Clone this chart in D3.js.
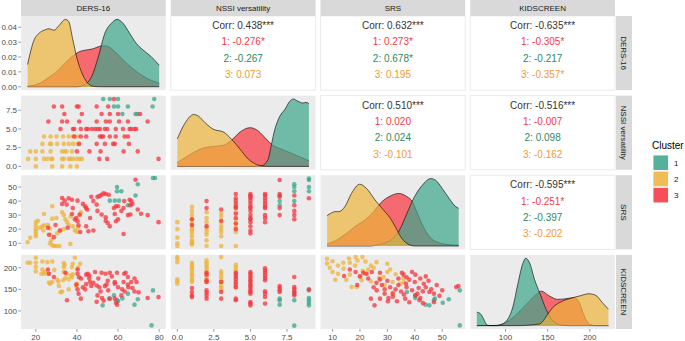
<!DOCTYPE html>
<html><head><meta charset="utf-8">
<script src="https://cdn.jsdelivr.net/npm/d3@7"></script>
<style>body{margin:0;background:#fff}svg{display:block}text{font-family:"Liberation Sans",Arial,sans-serif}</style>
</head><body><svg id="c" width="685" height="341"></svg>
<script>
// ---------------- data ----------------
const varNames = ["DERS-16","NSSI versatility","SRS","KIDSCREEN"];
const clusterNames = ["1","2","3"];
const fillColors = ["#3AA68B","#EEB33A","#F8333C"];
const corrTextColors = ["#F23A40","#2E8A60","#F2992E"];
const dataRange = [[16,80],[0,9],[8,56],[66,222]];
const tickValues = [[20,40,60,80],[0,2.5,5,7.5],[10,20,30,40,50],[100,150,200]];
const tickLabels = [["20","40","60","80"],["0.0","2.5","5.0","7.5"],["10","20","30","40","50"],["100","150","200"]];
const densTickValues = [0,0.01,0.02,0.03,0.04];
const densTickLabels = ["0.00","0.01","0.02","0.03","0.04"];

// correlation panels: [row, col, overall]
const corrOverall = [[0,1,"0.438***"],[0,2,"0.632***"],[0,3,"-0.635***"],[1,2,"0.510***"],[1,3,"-0.516***"],[2,3,"-0.595***"]];
const corrGroup1 = ["-0.276*","0.273*","-0.305*","0.020","-0.007","-0.251*"];
const corrGroup2 = ["-0.267","0.678*","-0.217","0.024","0.098","-0.397"];
const corrGroup3 = ["0.073","0.195","-0.357*","-0.101","-0.162","-0.202"];

// densities [x, density] per cluster (1 teal, 2 yellow, 3 red)
const densDers1 = [[16,0],[40,0],[44,0.0016],[47.2,0.007],[50.4,0.02],[53.6,0.036],[56.8,0.0427],[59.5,0.0453],[62.4,0.0427],[65.6,0.036],[68.8,0.0293],[72,0.0249],[76,0.0204],[80,0.0145]];
const densDers2 = [[16,0.0149],[19.2,0.0316],[21.6,0.036],[24,0.038],[26.4,0.039],[28.8,0.038],[31.2,0.041],[34.4,0.0453],[36,0.0438],[38,0.0316],[40,0.0193],[42.4,0.0093],[45.1,0.0027],[48,0.0003],[52,0],[80,0]];
const densDers3 = [[16,0.0004],[22.4,0.0027],[26,0.006],[30.4,0.0104],[33.6,0.015],[36.8,0.0193],[41.6,0.0238],[47.2,0.0253],[52.8,0.0276],[55.2,0.027],[59.2,0.0227],[64,0.016],[68.8,0.0104],[73.6,0.006],[80,0.0025]];
const densNssi1 = [[0,0],[5,0],[5.76,0.01],[6.2,0.1],[6.44,0.33],[6.67,0.55],[7.01,0.745],[7.35,0.843],[7.69,0.966],[7.94,1.0],[8.25,0.966],[8.59,0.94],[8.82,0.95],[9,0.93]];
const densNssi2 = [[0,0.41],[0.54,0.647],[1.11,0.77],[1.45,0.745],[1.9,0.647],[2.47,0.55],[3.15,0.51],[3.72,0.40],[4.29,0.255],[4.85,0.108],[5.42,0.029],[5.76,0.005],[6.2,0],[9,0]];
const densNssi3 = [[0,0.059],[0.54,0.132],[1.11,0.206],[1.68,0.265],[2.36,0.294],[3.15,0.314],[3.72,0.392],[4.29,0.51],[4.97,0.574],[5.54,0.525],[5.99,0.427],[6.44,0.328],[7.12,0.255],[7.8,0.196],[8.48,0.132],[9,0.083]];
const densSrs1 = [[8,0],[24,0],[25.5,0.01],[30.5,0.07],[34.2,0.22],[37.2,0.49],[39.6,0.71],[42.7,0.9],[45.8,1.0],[47.6,0.976],[50,0.854],[52.5,0.707],[54.9,0.585],[56,0.56]];
const densSrs2 = [[8,0.45],[9.5,0.49],[10.8,0.51],[12.3,0.51],[14.5,0.585],[16.9,0.78],[19.9,0.917],[22.4,0.854],[25.5,0.683],[28.5,0.537],[31,0.415],[32.8,0.293],[34.7,0.146],[37.1,0.039],[40,0],[56,0]];
const densSrs3 = [[8,0.03],[10.8,0.073],[14.5,0.17],[18.2,0.29],[21.9,0.39],[25,0.51],[27.4,0.634],[30.5,0.73],[34.2,0.78],[37.2,0.73],[39.1,0.66],[40.9,0.49],[43.3,0.27],[45.8,0.12],[48.8,0.049],[52.5,0.02],[56,0.01]];
const densKid1 = [[66,0.2],[70,0.18],[74,0.1],[78,0.01],[82,0],[90,0],[93.3,0.01],[101.1,0.07],[109,0.29],[114.8,0.63],[120.7,0.93],[123.9,1.0],[128.6,0.93],[134.5,0.68],[140.4,0.49],[148.2,0.24],[156.1,0.07],[165.9,0.01],[175,0],[222,0]];
const densKid2 = [[66,0],[120,0],[124.7,0.005],[140.3,0.024],[150.1,0.17],[156,0.268],[163.9,0.341],[175.6,0.4],[187.4,0.439],[199.1,0.473],[207,0.449],[214.8,0.341],[222,0.244]];
const densKid3 = [[66,0],[85,0.002],[93.3,0.01],[109,0.122],[124.7,0.317],[136.4,0.463],[142.3,0.512],[152.1,0.439],[161.9,0.39],[171.7,0.4],[181.5,0.415],[187.4,0.341],[193.3,0.146],[199.2,0.024],[207,0],[222,0]];

// scatter points [x, y, cluster]
const ptsDersNssi = [
[52.8,9,1],[56,9,1],[60,9,1],[77.6,9,1],[58,8,1],[60,8,1],[64.8,8,1],[76.8,8,1],[62.1,7,1],[68.5,7,1],[69.4,7,1],
[24,4,2],[27.2,4,2],[30.1,4,2],[33.3,4,2],[36,4,2],[38.1,4,2],[40.3,4,2],
[23.2,3,2],[26.9,3,2],[27.5,3,2],[30.4,3,2],[33.6,3,2],[36,3,2],[38.1,3,2],[40.3,3,2],
[17.3,2,2],[20,2,2],[23.2,2,2],[27.2,2,2],[32.8,2,2],[33.9,2,2],[34.9,2,2],[37.6,2,2],
[16.3,1,2],[20,1,2],[24,1,2],[25.6,1,2],[27.5,1,2],[28,1,2],[32.8,1,2],[33.6,1,2],[36,1,2],[36.8,1,2],[38.1,1,2],[40,1,2],[41.3,1,2],[42.4,1,2],
[20,0,2],[28,0,2],[32.8,0,2],[36.8,0,2],[40,0,2],
[58,9,3],[28.8,8,3],[32.8,8,3],[40,8,3],[40.8,8,3],[49.6,8,3],[55.2,8,3],
[33.9,7,3],[42.4,7,3],[52,7,3],[56,7,3],[60,7,3],[70.7,7,3],
[26.1,6,3],[32.8,6,3],[35.2,6,3],[41.1,6,3],[49.6,6,3],[54.1,6,3],[56,6,3],[60.5,6,3],[64.8,6,3],[74.4,6,3],
[32,5,3],[38.1,5,3],[38.7,5,3],[41.9,5,3],[44.5,5,3],[45.3,5,3],[47.2,5,3],[48.8,5,3],[50.1,5,3],[51.2,5,3],[53.6,5,3],[54.7,5,3],[58.9,5,3],[62.4,5,3],[65.6,5,3],[66.4,5,3],[68,5,3],[68.8,5,3],
[38.7,4,3],[41.9,4,3],[44.5,4,3],[51.2,4,3],[52,4,3],[52.8,4,3],[56,4,3],[58.9,4,3],[63.2,4,3],[64.8,4,3],
[41.1,3,3],[49.6,3,3],[53.6,3,3],[57.6,3,3],[58.4,3,3],[65.3,3,3],
[40,2,3],[46.1,2,3],[51.5,2,3],[62.7,2,3],[69.6,2,3],
[50.9,1,3],[54.7,1,3],[79.7,1,3]];

const ptsDersSrs = [
[77,56.4,1],[78,56.4,1],[59.5,50,1],[69.6,52,1],[59.5,47,1],[61.6,47,1],[68.5,44,1],[56,40.3,1],[58.4,40.3,1],[60.5,40.3,1],[64.8,37,1],
[16,10.7,2],[17.3,13.8,2],[20,25,2],[20,22.5,2],[20,20,2],[20,18.5,2],[20,16.5,2],[20,15,2],[23.2,22,2],[23.7,19,2],[24,22.8,2],[24,30.8,2],[25.9,23,2],[26.9,20.5,2],[27.2,16,2],[28,36.3,2],[28,27.5,2],[27.5,12,2],[26.9,10,2],[28,8.5,2],[29,8,2],[30,8,2],[31.5,8,2],[36.8,9.5,2],[32.8,32,2],[33.6,30,2],[34.4,27,2],[35.2,25,2],[36,23,2],[37,29,2],[38,22,2],[39,19,2],[40,18,2],[40.5,21,2],[41.5,30,2],[42,32,2],[30.4,17,2],[32,19,2],[33.5,20,2],[22,21,2],[21,26,2],[30,28,2],
[68.5,55.2,3],[32.8,42.2,3],[34,40.3,3],[37.6,41,3],[40.3,40.3,3],[42.9,38,3],[32.8,38,3],[35,37.5,3],[38,35,3],[44,36.3,3],[44.5,35,3],[45,34,3],[50,43,3],[51,43.5,3],[52,44.5,3],[53,45.5,3],[54,45,3],[55.5,44.5,3],[49.6,37.5,3],[50,33,3],[52,30.4,3],[54,28.5,3],[54,26,3],[55,24.4,3],[56,22,3],[58.4,30.8,3],[59,25.6,3],[60,27,3],[58,35,3],[59,36.3,3],[60,36.3,3],[61.6,33,3],[62.7,35,3],[65.6,41,3],[66.4,40,3],[66,37,3],[64.8,30,3],[66,30.4,3],[69.6,34,3],[71.2,31,3],[74.4,30,3],[79.7,25,3],[62.7,16.6,3],[48,19,3],[45.6,18.5,3],[44.5,22,3],[40.8,22.8,3],[41.6,18,3],[39.7,28,3],[41.3,30.4,3],[40.3,25.6,3],[46.4,28,3],[29.6,23,3],[25.9,21,3],[26.4,16,3],[28.8,14.3,3],[31.7,19,3],[35.5,21,3],[37.6,30.8,3],[36,42,3],[47,43,3],[48,40,3],[63,40,3],[67,38,3],[39,27,3]];

const ptsDersKid = [
[52.5,113,1],[55.7,128.5,1],[58,136,1],[59.5,125,1],[60,123,1],[62.1,129,1],[64.8,140,1],[69.6,127,1],[68,114.6,1],[77,147.6,1],[76.3,66.5,1],
[16,211.5,2],[17.3,211.5,2],[20,223,2],[20,211.5,2],[20,201.5,2],[20,191.5,2],[23.2,214.6,2],[25.6,213,2],[28,214.6,2],[23.2,196,2],[24,186,2],[22.7,186,2],[26,186,2],[28,167,2],[27,163,2],[33.6,211,2],[34,207,2],[33.6,201.5,2],[38,209,2],[39,223,2],[41.6,209,2],[37.6,201.5,2],[33.6,190,2],[34.4,176,2],[36,173,2],[37.6,178.5,2],[40,163,2],[39.7,158,2],[32.8,145,2],[31.2,158,2],[36,150,2],[33.3,171,2],[30.4,172,2],[31,168,2],[26.4,166,2],[35,186,2],[38,185,2],[29,195,2],[24.5,190,2],[40.5,200,2],[32,143,2],[37,182,2],
[25.9,196,3],[26.4,186,3],[28.8,178.5,3],[34.4,188.5,3],[40.3,196,3],[40.3,186,3],[44.5,184,3],[45.3,186,3],[46,182,3],[46,175,3],[46.4,167,3],[48.8,190,3],[52,188.5,3],[53.9,186,3],[56,188.5,3],[59.5,188.5,3],[63,186,3],[63.7,188.5,3],[64.8,178.5,3],[68,175,3],[69,167,3],[66.4,167,3],[62.7,167,3],[58.4,167,3],[58.4,163,3],[54.4,161,3],[50.4,175,3],[49.6,159,3],[50.9,155,3],[53.6,157.5,3],[55.2,147.7,3],[51.5,145,3],[52.2,130,3],[49.6,121,3],[56,128.5,3],[58.4,128.5,3],[59.5,114.6,3],[59,119,3],[61.6,136,3],[63.2,145,3],[68,145,3],[70,143,3],[67,153,3],[64.8,161,3],[40.3,150,3],[39.7,161,3],[40.8,140,3],[41.9,128.5,3],[42.9,155,3],[44,150,3],[35.2,124.6,3],[74.4,130,3],[79.7,132,3],[48,165,3],[55,170,3],[60,155,3],[62,150,3],[57,180,3],[42,175,3],[47,158,3],[65,155,3],[50,136,3],[53,124,3],[44.5,162,3],[41,178,3]];

const ptsNssiSrs = [
[7,40,1],[7,44,1],[7,37,1],[8,47,1],[8,50,1],[8,40,1],[8,52,1],[9,56,1],[9,55,1],[9,50,1],[9,47,1],
[0,8,2],[0,10,2],[0,14,2],[0,20,2],[0,25,2],
[1,10,2],[1,12,2],[1,15,2],[1,17,2],[1,19,2],[1,20,2],[1,22,2],[1,24,2],[1,27,2],[1,30,2],[1,33,2],[1,36,2],[1,11,2],[1,9,2],
[2,8,2],[2,12,2],[2,16,2],[2,18,2],[2,20,2],[2,22,2],[2,25,2],[2,28,2],[2,32,2],
[3,8,2],[3,15,2],[3,20,2],[3,22,2],[3,25,2],[3,29,2],[3,31,2],[3,18,2],
[4,21,2],[4,27,2],[4,32,2],[4,24,2],[4,18,2],[4,8,2],
[1,23,3],[1,27,3],[2,22,3],[2,35,3],[2,40,3],[3,26,3],[3,34,3],
[4,28,3],[4,36,3],[4,42,3],[4,45,3],[4,20,3],[4,31,3],[4,38,3],[4,24,3],[4,35,3],[4,40,3],
[5,17,3],[5,22,3],[5,25,3],[5,28,3],[5,30,3],[5,33,3],[5,35,3],[5,36,3],[5,38,3],[5,40,3],[5,42,3],[5,43,3],[5,44,3],[5,45,3],[5,27,3],[5,19,3],
[6,25,3],[6,30,3],[6,35,3],[6,38,3],[6,42,3],[6,44,3],[6,45,3],[6,28,3],[6,36,3],[6,40,3],
[7,30,3],[7,35,3],[7,43,3],[7,45,3],[7,55,3],[8,27,3],[8,33,3],[8,44,3],[8,37,3],[8,30,3],[9,42,3]];

const ptsNssiKid = [
[7,128.5,1],[7,124.6,1],[7,114.6,1],[8,142,1],[8,124.6,1],[8,66,1],[9,147.7,1],[9,130,1],[9,124.6,1],[9,119,1],[9,113,1],
[0,224.6,2],[0,220.8,2],[0,213,2],[0,173,2],[0,168.5,2],[0,163,2],
[1,211.5,2],[1,207,2],[1,201.5,2],[1,198,2],[1,192,2],[1,186,2],[1,182,2],[1,175,2],[1,171,2],[1,167,2],
[2,217,2],[2,211.5,2],[2,207,2],[2,201.5,2],[2,196,2],[2,190,2],[2,180.8,2],[2,174.6,2],[2,167,2],
[3,224.6,2],[3,191.5,2],[3,186,2],[3,178.5,2],[3,171,2],[3,167,2],[3,157.7,2],[3,153,2],[3,147.7,2],
[4,207,2],[4,201.5,2],[4,196,2],[4,190,2],[4,155.4,2],
[1,153,3],[1,144,3],[1,136,3],[1,132,3],
[2,188.5,3],[2,184,3],[2,171,3],[2,167,3],[2,147.7,3],[2,142,3],[2,136,3],[2,128.5,3],
[3,167,3],[3,144,3],[3,128.5,3],
[4,188.5,3],[4,184,3],[4,178.5,3],[4,173,3],[4,167,3],[4,161,3],[4,155,3],[4,128.5,3],[4,124.6,3],
[5,190,3],[5,186,3],[5,180.8,3],[5,176,3],[5,171,3],[5,167,3],[5,161,3],[5,157.7,3],[5,153,3],[5,147.7,3],[5,144,3],[5,140,3],[5,120.8,3],[5,117,3],[5,113,3],
[6,199,3],[6,193.8,3],[6,188.5,3],[6,182.3,3],[6,176,3],[6,171,3],[6,145.4,3],[6,140,3],[6,132.3,3],[6,117,3],
[7,157.7,3],[7,153,3],[7,147.7,3],[7,144,3],
[8,178.5,3],[8,155.4,3],[8,151.5,3],[8,145.4,3],[8,140,3],[8,136,3],[9,150,3]];

const ptsSrsKid = [
[37.1,144,1],[40.2,130,1],[40.2,136,1],[43.9,114.6,1],[45.3,113,1],[47.3,128.5,1],[50.2,119,1],[52.4,127,1],[56.4,147.7,1],[56.4,66.5,1],[47,125,1],
[13.9,211.5,2],[16,221.5,2],[16.3,211.5,2],[18.4,224.6,2],[18.2,205,2],[19.1,217,2],[20.9,224.6,2],[22,214.6,2],[23,196,2],[24,205,2],[16.3,184,2],[17,155.4,2],[18.8,155.4,2],[20.6,171,2],[24,168.5,2],[30,209,2],[30,190,2],[31,196,2],[28.6,178.5,2],[31.9,167,2],[35.9,176,2],[36,167,2],[32.2,142,2],[34.7,163,2],[8,221,2],[8,210,2],[9,200,2],[10,215,2],[10,190,2],[12,205,2],[11,172,2],[14,198,2],[20,180,2],[22,186,2],[25,200,2],[27,176,2],[29,160,2],[33,185,2],[26,213,2],[21,193,2],[15,172,2],[12,186,2],
[16.3,196,3],[18.4,190,3],[21.2,188.5,3],[22.4,186,3],[24.3,190,3],[14.2,180.8,3],[27.3,188.5,3],[27.3,173,3],[26.1,147.7,3],[24,128.5,3],[25.3,113,3],[27.3,128.5,3],[30.4,130,3],[30.2,122.3,3],[31.9,140,3],[33.5,122.3,3],[35.3,188.5,3],[35.9,184,3],[36.8,163,3],[40.2,184,3],[40,167,3],[41.4,153,3],[43.3,163,3],[40.2,136,3],[42.9,145.4,3],[45.3,144,3],[41.7,124.6,3],[36.5,128.5,3],[55.1,155.4,3],[55.9,157.7,3],[28,160,3],[29,150,3],[31,155,3],[33,150,3],[34,175,3],[35,145,3],[37,155,3],[38,172,3],[39,148,3],[42,175,3],[44,155,3],[45,170,3],[46,150,3],[47,140,3],[48,160,3],[49,135,3],[32,133,3],[36,138,3],[38,120,3],[42,130,3],[26,165,3],[23,175,3],[20,180,3],[19,160,3],[44,180,3],[34,160,3],[37,178,3],[39,190,3],[41,140,3],[29,140,3],[25,155,3],[50,148,3],[43,118,3],[47,120,3],[30,170,3]];

// ---------------- layout ----------------
const svg = d3.select("#c");
const L = 21, R = 615, T = 16, B = 329, gapX = 5, gapY = 5.5, stripH = 16;
const pw = (R - L - 3*gapX)/4, ph = (B - T - 3*gapY)/4;
const px = i => L + i*(pw + gapX), py = j => T + j*(ph + gapY);
const expand = (r, f=0.05) => { const d = r[1]-r[0]; return [r[0]-f*d, r[1]+f*d]; };
const xS = dataRange.map((r,i) => d3.scaleLinear().domain(expand(r)).range([px(i), px(i)+pw]));
const yS = dataRange.map((r,j) => d3.scaleLinear().domain(expand(r)).range([py(j)+ph, py(j)]));
const densSets = [[densDers1,densDers2,densDers3],[densNssi1,densNssi2,densNssi3],[densSrs1,densSrs2,densSrs3],[densKid1,densKid2,densKid3]];
const densMax = densSets.map(s => d3.max(s.flat(), d => d[1]));
const dS = densSets.map((s,j) => d3.scaleLinear().domain([-0.05*densMax[j], 1.05*densMax[j]]).range([py(j)+ph, py(j)]));
const scatterSets = {"1,0": ptsDersNssi, "2,0": ptsDersSrs, "3,0": ptsDersKid, "2,1": ptsNssiSrs, "3,1": ptsNssiKid, "3,2": ptsSrsKid};

function minors(ticks, dom) {
  const step = ticks[1]-ticks[0], out = [];
  for (let v = ticks[0]-step/2; v <= dom[1]; v += step) if (v >= dom[0]) out.push(v);
  return out;
}
const densGridMajor = j => j === 0 ? densTickValues : d3.range(0, densMax[j]*1.05, 0.27*densMax[j]);

const grid = svg.append("g");
function drawGrid(x0, x1, y0, y1, xs, xt, ys, yt) {
  const xm = minors(xt, xs.domain()), ym = minors(yt, ys.domain());
  xm.forEach(v => grid.append("line").attr("x1", xs(v)).attr("x2", xs(v)).attr("y1", y0).attr("y2", y1).attr("stroke","#fff").attr("stroke-width",0.5));
  ym.forEach(v => grid.append("line").attr("x1", x0).attr("x2", x1).attr("y1", ys(v)).attr("y2", ys(v)).attr("stroke","#fff").attr("stroke-width",0.5));
  xt.forEach(v => grid.append("line").attr("x1", xs(v)).attr("x2", xs(v)).attr("y1", y0).attr("y2", y1).attr("stroke","#fff").attr("stroke-width",1));
  yt.forEach(v => grid.append("line").attr("x1", x0).attr("x2", x1).attr("y1", ys(v)).attr("y2", ys(v)).attr("stroke","#fff").attr("stroke-width",1));
}

const drawOrder = [2,0,1];
for (let r = 0; r < 4; r++) for (let c = 0; c < 4; c++) {
  const x0 = px(c), y0 = py(r);
  if (r < c) {
    svg.append("rect").attr("x",x0).attr("y",y0).attr("width",pw).attr("height",ph).attr("fill","#fff").attr("stroke","#EBEBEB").attr("stroke-width",1);
    continue;
  }
  svg.append("rect").attr("x",x0).attr("y",y0).attr("width",pw).attr("height",ph).attr("fill","#EBEBEB");
  if (r === c) {
    const ys = dS[r];
    const gm = densGridMajor(r);
    drawGrid(x0, x0+pw, y0, y0+ph, xS[c], tickValues[c], ys, gm);
    const g = svg.append("g");
    const area = d3.area().x(d => xS[c](d[0])).y0(ys(0)).y1(d => ys(d[1])).curve(d3.curveMonotoneX);
    const line = d3.line().x(d => xS[c](d[0])).y(d => ys(d[1])).curve(d3.curveMonotoneX);
    drawOrder.forEach(k => {
      g.append("path").attr("d", area(densSets[r][k])).attr("fill", fillColors[k]).attr("fill-opacity", 0.7);
      g.append("path").attr("d", line(densSets[r][k])).attr("fill","none").attr("stroke","#000").attr("stroke-width",0.6);
    });
  } else {
    drawGrid(x0, x0+pw, y0, y0+ph, xS[c], tickValues[c], yS[r], tickValues[r]);
    const pts = scatterSets[r+","+c];
    const g = svg.append("g");
    [1,2,3].forEach(k => {
      g.selectAll(null).data(pts.filter(d => d[2] === k)).enter().append("circle")
        .attr("cx", d => xS[c](d[0])).attr("cy", d => yS[r](d[1])).attr("r", 2.3)
        .attr("fill", fillColors[k-1]).attr("fill-opacity", 0.75);
    });
  }
}

// correlation text
corrOverall.forEach((d, i) => {
  const [r, c, v] = d;
  const cx = px(c) + pw/2, base = py(r) + ph/2 - 3;
  const lines = [["Corr: " + v, "#333333"], ["1: " + corrGroup1[i], corrTextColors[0]], ["2: " + corrGroup2[i], corrTextColors[1]], ["3: " + corrGroup3[i], corrTextColors[2]]];
  lines.forEach((l, k) => svg.append("text").attr("x", cx).attr("y", base + (k-1.5)*16.3).attr("dy","0.35em")
    .attr("text-anchor","middle").attr("font-size", 10).attr("fill", l[1]).text(l[0]));
});

// strips
varNames.forEach((n, i) => {
  svg.append("rect").attr("x", px(i)).attr("y", 0).attr("width", pw).attr("height", stripH).attr("fill","#D9D9D9");
  svg.append("text").attr("x", px(i)+pw/2).attr("y", stripH/2).attr("dy","0.35em").attr("text-anchor","middle")
    .attr("font-size", 8).attr("fill","#1A1A1A").text(n);
  svg.append("rect").attr("x", R+1).attr("y", py(i)).attr("width", 16).attr("height", ph).attr("fill","#D9D9D9");
  svg.append("text").attr("transform", `translate(${R+9},${py(i)+ph/2}) rotate(90)`).attr("dy","0.35em").attr("text-anchor","middle")
    .attr("font-size", 8).attr("fill","#1A1A1A").text(n);
});

// axes
const axG = svg.append("g");
for (let c = 0; c < 4; c++) {
  tickValues[c].forEach((v, k) => {
    const x = xS[c](v);
    axG.append("line").attr("x1", x).attr("x2", x).attr("y1", B).attr("y2", B+2.75).attr("stroke","#333").attr("stroke-width",0.5);
    axG.append("text").attr("x", x).attr("y", B+10.5).attr("text-anchor","middle").attr("font-size",8).attr("fill","#4D4D4D").text(tickLabels[c][k]);
  });
}
for (let r = 0; r < 4; r++) {
  const ys = r === 0 ? dS[0] : yS[r];
  const tv = r === 0 ? densTickValues : tickValues[r];
  const tl = r === 0 ? densTickLabels : tickLabels[r];
  tv.forEach((v, k) => {
    const y = ys(v);
    axG.append("line").attr("x1", L-2.75).attr("x2", L).attr("y1", y).attr("y2", y).attr("stroke","#333").attr("stroke-width",0.5);
    axG.append("text").attr("x", L-4).attr("y", y).attr("dy","0.35em").attr("text-anchor","end").attr("font-size",8).attr("fill","#4D4D4D").text(tl[k]);
  });
}

// legend
const lg = svg.append("g");
lg.append("text").attr("x", 652).attr("y", 149).attr("font-size", 10).attr("fill","#000").text("Cluster");
clusterNames.forEach((n, k) => {
  lg.append("rect").attr("x", 653).attr("y", 155 + k*16.2).attr("width", 15.5).attr("height", 15.5).attr("fill","#F2F2F2");
  lg.append("rect").attr("x", 653.5).attr("y", 155.5 + k*16.2).attr("width", 14.5).attr("height", 14.5).attr("fill", fillColors[k]).attr("fill-opacity", 0.85);
  lg.append("text").attr("x", 674).attr("y", 162.8 + k*16.2).attr("dy","0.35em").attr("font-size", 8).attr("fill","#1A1A1A").text(n);
});
</script></body></html>
